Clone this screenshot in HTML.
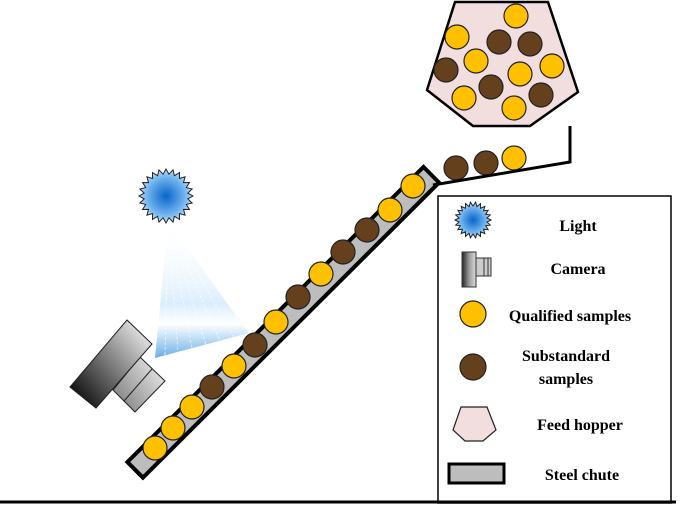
<!DOCTYPE html>
<html><head><meta charset="utf-8"><style>
html,body{margin:0;padding:0;background:#fff;}
svg{display:block;}
text{font-family:"Liberation Serif",serif;font-weight:bold;font-size:16px;fill:#000;}
</style></head><body>
<svg id="s" width="685" height="516" viewBox="0 0 685 516" xmlns="http://www.w3.org/2000/svg">
<defs>
<radialGradient id="lg" cx="50%" cy="50%" r="55%">
<stop offset="0" stop-color="#0a64c8"/><stop offset="0.6" stop-color="#6ab0ee"/><stop offset="1" stop-color="#cfe6fb"/>
</radialGradient>
<linearGradient id="beam" x1="0" y1="0" x2="0" y2="1">
<stop offset="0" stop-color="#ffffff" stop-opacity="0"/><stop offset="0.6" stop-color="#dbeefd"/><stop offset="0.75" stop-color="#ffffff"/><stop offset="1" stop-color="#6aaee8"/>
</linearGradient>
<linearGradient id="cam" gradientUnits="userSpaceOnUse" x1="75" y1="395" x2="145" y2="335">
<stop offset="0" stop-color="#111"/><stop offset="1" stop-color="#e0e0e0"/>
</linearGradient>
<linearGradient id="lens" gradientUnits="userSpaceOnUse" x1="115" y1="395" x2="160" y2="365">
<stop offset="0" stop-color="#888"/><stop offset="1" stop-color="#e6e6e6"/>
</linearGradient>
<linearGradient id="camv" x1="0" y1="0" x2="1" y2="0">
<stop offset="0" stop-color="#222"/><stop offset="0.5" stop-color="#999"/><stop offset="1" stop-color="#ddd"/>
</linearGradient>
</defs>
<polygon points="168,222 155,358 249,333" fill="url(#beam)"/>
<g stroke="#fff" stroke-width="0.8" stroke-dasharray="3,2" opacity="0.8">
<line x1="168" y1="222" x2="165" y2="355"/><line x1="168" y1="222" x2="178" y2="352"/><line x1="168" y1="222" x2="192" y2="348"/><line x1="168" y1="222" x2="206" y2="345"/><line x1="168" y1="222" x2="220" y2="341"/><line x1="168" y1="222" x2="234" y2="337"/>
</g>
<polygon id="star1" fill="url(#lg)" stroke="#222" stroke-width="1"/>
<polygon points="140,357 165,381 135,412 113,390" fill="url(#lens)" stroke="#222" stroke-width="1"/>
<line x1="152" y1="369" x2="124" y2="401" stroke="#222"/>
<polygon points="70,387 127,320 152,344 96,408" fill="url(#cam)" stroke="#222" stroke-width="1"/>
<g transform="translate(138,467) rotate(-44.9)">
<rect x="-4" y="-11" width="418" height="22" fill="#bdbdbd" stroke="#000" stroke-width="4"/>
</g>
<g id="chballs" stroke="#222" stroke-width="1.2"></g>
<polyline points="433,185 570,162 570,126" fill="none" stroke="#000" stroke-width="3"/>
<polygon points="455,2 548,2 578,92 530,126 473,126 427,90" fill="#f2dede" stroke="#000" stroke-width="2.5"/>
<g id="hballs" stroke="#222" stroke-width="1.2"></g>
<line x1="0" y1="502" x2="676" y2="502" stroke="#000" stroke-width="3"/>
<rect x="438" y="196" width="233" height="307" fill="none" stroke="#000" stroke-width="1.5"/>
<polygon id="star2" fill="url(#lg)" stroke="#222" stroke-width="1"/>
<rect x="462" y="252" width="14" height="35" fill="url(#camv)" stroke="#333" stroke-width="1"/>
<rect x="476" y="258" width="15" height="18" fill="#ccc" stroke="#333" stroke-width="1"/>
<line x1="484" y1="258" x2="484" y2="276" stroke="#333"/><line x1="488" y1="258" x2="488" y2="276" stroke="#333"/>
<circle cx="473" cy="314" r="13" fill="#ffc000" stroke="#222" stroke-width="1.2"/>
<circle cx="473" cy="367" r="13" fill="#65401d" stroke="#222" stroke-width="1.2"/>
<polygon points="461,407 487,407 496,430 483,441 465,441 453,430" fill="#f2dede" stroke="#222" stroke-width="1.2"/>
<rect x="449" y="464" width="55" height="19" fill="#bdbdbd" stroke="#000" stroke-width="3"/>
<text x="578" y="231" text-anchor="middle">Light</text>
<text x="578" y="274" text-anchor="middle">Camera</text>
<text x="570" y="321" text-anchor="middle">Qualified samples</text>
<text x="566" y="361" text-anchor="middle">Substandard</text>
<text x="566" y="384" text-anchor="middle">samples</text>
<text x="580" y="430" text-anchor="middle">Feed hopper</text>
<text x="582" y="480" text-anchor="middle">Steel chute</text>
</svg>
<script>
function star(id,cx,cy,r1,r2,n){var p=[];for(var i=0;i<2*n;i++){var a=Math.PI*i/n;var r=i%2?r2:r1;p.push((cx+r*Math.cos(a)).toFixed(1)+","+(cy+r*Math.sin(a)).toFixed(1));}document.getElementById(id).setAttribute("points",p.join(" "));}
star("star1",166,196,27,22,24);star("star2",473,220,18,14,22);
var Y="#ffc000",B="#65401d",NS="http://www.w3.org/2000/svg";
function ball(g,x,y,c,r){var e=document.createElementNS(NS,"circle");e.setAttribute("cx",x);e.setAttribute("cy",y);e.setAttribute("r",r);e.setAttribute("fill",c);document.getElementById(g).appendChild(e);}
[[155,448,Y],[173,428,Y],[192,407,Y],[212,387,B],[234,366,Y],[255,345,B],[276,322,Y],[298,297,B],[321,274,Y],[343,252,B],[367,230,B],[390,210,Y],[413,186,Y],[456,168,B],[486,163,B],[514,158,Y]].forEach(function(b){ball("chballs",b[0],b[1],b[2],12);});
[[516,16,Y],[457,37,Y],[499,42,B],[530,44,B],[476,61,Y],[446,70,B],[520,74,Y],[552,66,Y],[491,87,B],[464,98,Y],[514,108,Y],[541,95,B]].forEach(function(b){ball("hballs",b[0],b[1],b[2],12);});
</script>
</body></html>
